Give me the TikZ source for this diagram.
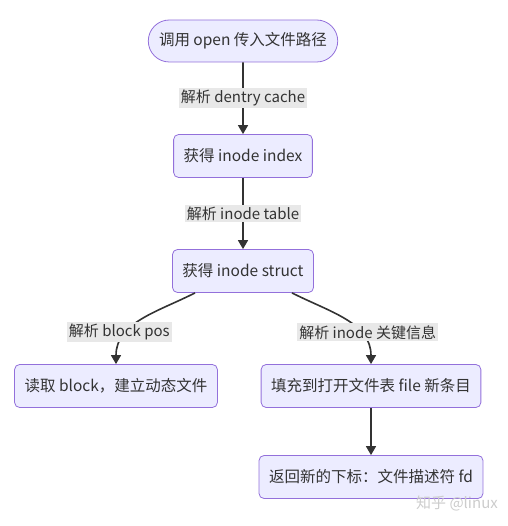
\documentclass[tikz,border=0pt]{standalone}
\usepackage{fontspec}
\setmainfont{Noto Sans CJK SC}
\usetikzlibrary{positioning,shapes.misc,arrows.meta}
\definecolor{boxfill}{HTML}{ECECFF}
\definecolor{boxline}{HTML}{9370DB}
\definecolor{labelbg}{HTML}{E8E8E8}
\definecolor{linec}{HTML}{333333}

\begin{document}
\begin{tikzpicture}[x=1pt,y=1pt,node distance=115pt,on grid,
		box/.style={rectangle,rounded corners=5pt,draw=boxline,fill=boxfill,line width=0.8pt,
			minimum height=43pt,inner xsep=10pt,text=linec,font=\fontsize{15.5}{17}\selectfont},
		term/.style={rounded rectangle,draw=boxline,fill=boxfill,line width=0.8pt,
			minimum height=42pt,inner xsep=9pt,text=linec,font=\fontsize{15.5}{17}\selectfont},
		lbl/.style={fill=labelbg,inner sep=2pt,text=linec,font=\fontsize{15}{17}\selectfont},
		flow/.style={draw=linec,line width=1.6pt,-{Triangle[length=9pt,width=10pt]}}]
			\useasboundingbox (0,0) rectangle (507,-526);
			\node[term] (open) at (243,-41) {调用 open 传入文件路径};
			\node[box] (idx) [below=of open] {获得 inode index};
			\node[box] (ist) [below=of idx] {获得 inode struct};
			\node[box] (blk) [below left=115pt and 127pt of ist] {读取 block，建立动态文件};
			\node[box] (fent) [below right=115pt and 128pt of ist] {填充到打开文件表 file 新条目};
			\node[box] (fd) [below=91pt of fent] {返回新的下标：文件描述符 fd};
			\node[text=gray!40,font=\fontsize{15}{17}\selectfont] (mark) at (457,-503) {知乎 @linux};
			\path
			(open) edge [flow] node[lbl] {解析 dentry cache} (idx)
			(idx) edge [flow] node[lbl] {解析 inode table} (ist)
			([xshift=-48pt]ist.south) edge [flow,out=-153,in=90] node[lbl,pos=0.68,xshift=-8pt] {解析 block pos} (blk)
			([xshift=49pt]ist.south) edge [flow,out=-27,in=90] node[lbl,pos=0.68,xshift=8pt] {解析 inode 关键信息} (fent)
			(fent) edge [flow] (fd);
		\end{tikzpicture}
\end{document}
